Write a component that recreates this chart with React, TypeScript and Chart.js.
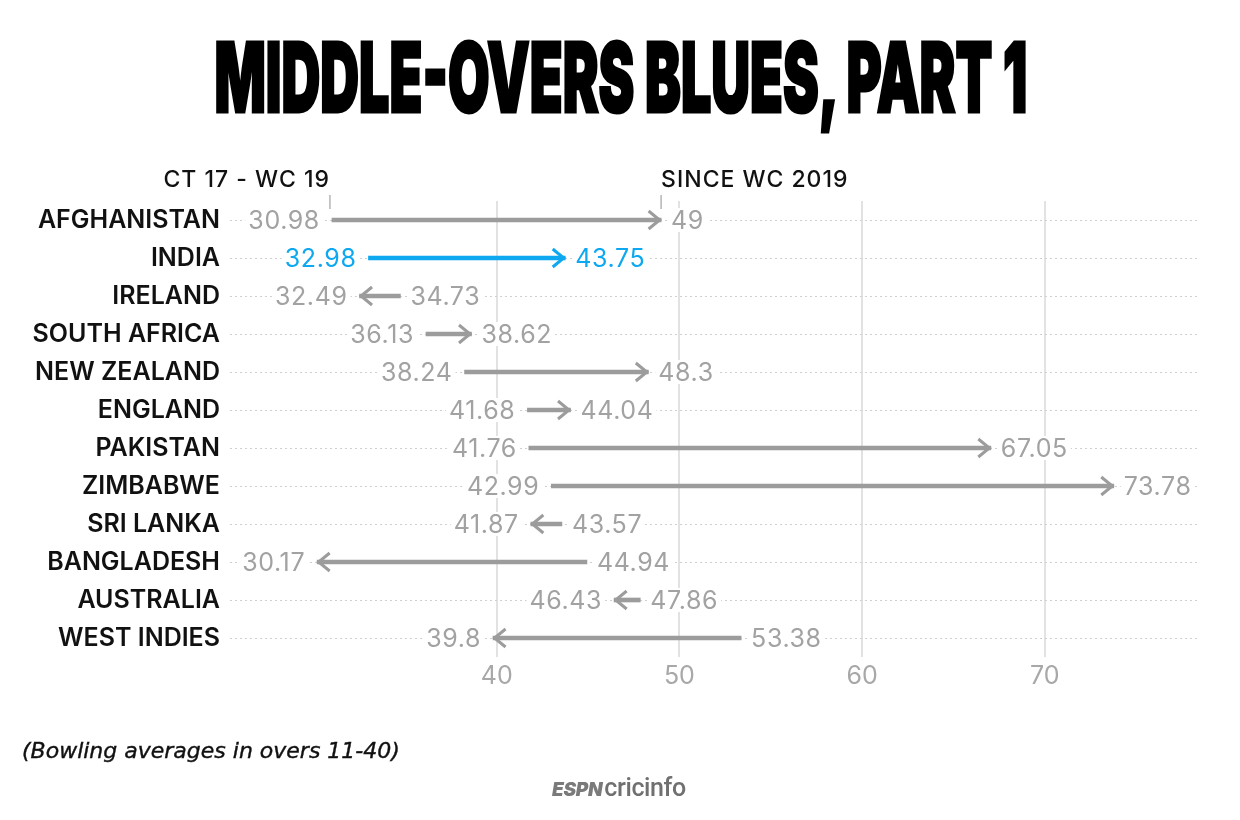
import React, { useEffect, useLayoutEffect, useRef } from "react";
import { Chart, registerables } from "chart.js";

Chart.register(...registerables);

// ---------- data ----------
const teams = [
  "AFGHANISTAN",
  "INDIA",
  "IRELAND",
  "SOUTH AFRICA",
  "NEW ZEALAND",
  "ENGLAND",
  "PAKISTAN",
  "ZIMBABWE",
  "SRI LANKA",
  "BANGLADESH",
  "AUSTRALIA",
  "WEST INDIES",
];
const ct17ToWc19 = [30.98, 32.98, 34.73, 36.13, 38.24, 41.68, 41.76, 42.99, 43.57, 44.94, 47.86, 53.38];
const sinceWc2019 = [49, 43.75, 32.49, 38.62, 48.3, 44.04, 67.05, 73.78, 41.87, 30.17, 46.43, 39.8];
const xTickValues = [40, 50, 60, 70];
const periodLabels = ["CT 17 - WC 19", "SINCE WC 2019"];
const highlightTeam = "INDIA";
const titleText = "MIDDLE-OVERS BLUES, PART 1";
const footnoteText = "(Bowling averages in overs 11-40)";

// ---------- styles ----------
const GREY = "#a2a2a2";
const ARROW_GREY = "#9c9c9c";
const BLUE = "#0ea8f0";
const FONT = "Inter";
const VALUE_FONT = `400 25px ${FONT}`;
const HEADER_FONT = `500 23px ${FONT}`;
const LABEL_GAP = 10;

const colorFor = (i: number) => (teams[i] === highlightTeam ? BLUE : GREY);
const arrowColorFor = (i: number) => (teams[i] === highlightTeam ? BLUE : ARROW_GREY);

const arrowPlugin = {
  id: "arrowsAndLabels",
  afterDatasetsDraw(chart: any) {
    const { ctx } = chart;
    const x = chart.scales.x;
    const y = chart.scales.y;
    ctx.save();
    teams.forEach((_t, i) => {
      const a = ct17ToWc19[i];
      const b = sinceWc2019[i];
      const xa = x.getPixelForValue(a);
      const xb = x.getPixelForValue(b);
      const yy = y.getPixelForValue(i);
      const dir = xb >= xa ? 1 : -1;
      // chevron head
      ctx.strokeStyle = arrowColorFor(i);
      ctx.lineWidth = 3;
      ctx.lineJoin = "miter";
      ctx.lineCap = "butt";
      const tip = xb - dir * 1.5;
      ctx.beginPath();
      ctx.moveTo(tip - dir * 11, yy - 9);
      ctx.lineTo(tip, yy);
      ctx.lineTo(tip - dir * 11, yy + 9);
      ctx.stroke();

      // value labels
      ctx.font = VALUE_FONT;
      try {
        (ctx as any).letterSpacing = "0.6px";
      } catch (e) {}
      ctx.textBaseline = "middle";
      const lo = Math.min(a, b);
      const hi = Math.max(a, b);
      const drawLabel = (txt: string, px: number, align: "left" | "right") => {
        const w = ctx.measureText(txt).width;
        const left = align === "left" ? px : px - w;
        ctx.fillStyle = "#ffffff";
        ctx.fillRect(left - 3, yy - 12, w + 6, 24);
        ctx.fillStyle = colorFor(i);
        ctx.textAlign = align;
        ctx.fillText(txt, px, yy + 1);
      };
      drawLabel(String(lo), x.getPixelForValue(lo) - LABEL_GAP - 2, "right");
      drawLabel(String(hi), x.getPixelForValue(hi) + LABEL_GAP, "left");
    });

    // period headers above the first row
    const y0 = y.getPixelForValue(0);
    const hx1 = x.getPixelForValue(ct17ToWc19[0]);
    const hx2 = x.getPixelForValue(sinceWc2019[0]);
    ctx.font = HEADER_FONT;
    try {
      (ctx as any).letterSpacing = "1px";
    } catch (e) {}
    ctx.fillStyle = "#111111";
    ctx.textBaseline = "middle";
    ctx.textAlign = "right";
    ctx.fillText(periodLabels[0], hx1 - 2, y0 - 40);
    ctx.textAlign = "left";
    ctx.fillText(periodLabels[1], hx2, y0 - 40);
    ctx.strokeStyle = "#b5b5b5";
    ctx.lineWidth = 1.5;
    ctx.beginPath();
    ctx.moveTo(hx1 - 2, y0 - 25);
    ctx.lineTo(hx1 - 2, y0 - 11);
    ctx.moveTo(hx2, y0 - 25);
    ctx.lineTo(hx2, y0 - 11);
    ctx.stroke();
    ctx.restore();
  },
};

function ChartCanvas() {
  const ref = useRef<HTMLCanvasElement | null>(null);
  useEffect(() => {
    if (!ref.current) return;
    const chart = new Chart(ref.current, {
      type: "bar",
      data: {
        labels: teams,
        datasets: [
          {
            data: teams.map((_t, i) => [ct17ToWc19[i], sinceWc2019[i]]) as any,
            backgroundColor: teams.map((_t, i) => arrowColorFor(i)),
            barThickness: 4,
            borderWidth: 0,
            borderSkipped: false,
          },
        ],
      },
      options: {
        indexAxis: "y",
        animation: false,
        responsive: false,
        layout: { padding: { top: 201, bottom: 123, left: 0, right: 40 } },
        plugins: {
          legend: { display: false },
          tooltip: { enabled: false },
          title: { display: false },
        },
        scales: {
          x: {
            type: "linear",
            min: 25.4,
            max: 78.5,
            afterBuildTicks: (scale: any) => {
              scale.ticks = xTickValues.map((v) => ({ value: v }));
            },
            afterFit: (scale: any) => {
              scale.height = 40;
            },
            grid: { color: "#e2e2e2", lineWidth: 2, drawTicks: false },
            border: { display: false },
            ticks: {
              color: "#a8a8a8",
              font: { family: FONT, size: 25, weight: "400" },
              padding: 4,
            },
          },
          y: {
            type: "category",
            afterFit: (scale: any) => {
              scale.width = 230;
            },
            grid: {
              offset: false,
              color: "#cfcfcf",
              lineWidth: 1,
              drawTicks: false,
            },
            border: { display: false, dash: [2, 3] },
            ticks: {
              color: "#111111",
              font: { family: FONT, size: 25, weight: "600" },
              padding: 10,
            },
          },
        },
      } as any,
      plugins: [arrowPlugin],
    });
    (chart.options.scales as any).y.grid.borderDash = [2, 3];
    chart.update();
    return () => chart.destroy();
  }, []);
  return <canvas ref={ref} width={1240} height={820} style={{ position: "absolute", left: 0, top: 0 }} />;
}

function FitText({ text, width, style }: { text: string; width: number; style: React.CSSProperties }) {
  const ref = useRef<HTMLSpanElement | null>(null);
  useLayoutEffect(() => {
    const el = ref.current;
    if (!el) return;
    el.style.transform = "none";
    const w = el.offsetWidth;
    if (w > 0) el.style.transform = `translateX(${-width / 2}px) scaleX(${width / w})`;
  }, [text, width]);
  return (
    <span
      ref={ref}
      style={{ position: "absolute", left: 0, top: 0, display: "inline-block", whiteSpace: "nowrap", transformOrigin: "0 0", ...style }}
    >
      {text}
    </span>
  );
}

export default function App() {
  return (
    <div style={{ position: "absolute", left: 0, top: 0, width: 1240, height: 820, background: "#fff", overflow: "hidden" }}>
      <ChartCanvas />
      <div style={{ position: "absolute", left: 621, top: 29, width: 0, height: 100, lineHeight: 1 }}>
        <FitText
          text={titleText}
          width={813}
          style={{ fontFamily: "Inter", fontWeight: 900, fontSize: 96, lineHeight: 1, color: "#000", WebkitTextStroke: "3px #000" }}
        />
      </div>
      <div
        style={{
          position: "absolute",
          left: 22,
          top: 740,
          fontFamily: "DejaVu Sans",
          fontStyle: "italic",
          fontSize: 22,
          lineHeight: 1,
          color: "#111",
          whiteSpace: "nowrap",
          WebkitTextStroke: "0.4px #111",
        }}
      >
        {footnoteText}
      </div>
      <div style={{ position: "absolute", left: 552, top: 775, lineHeight: 1, whiteSpace: "nowrap", color: "#707070" }}>
        <span
          style={{
            display: "inline-block",
            fontFamily: "Inter",
            fontWeight: 900,
            fontStyle: "italic",
            fontSize: 19,
            letterSpacing: -0.3,
            verticalAlign: "baseline",
            color: "#7a7a7a",
          }}
        >
          ESPN
        </span>
        <span style={{ fontFamily: "Roboto", fontWeight: 500, fontSize: 25, letterSpacing: -0.4, marginLeft: 2 }}>cricinfo</span>
      </div>
    </div>
  );
}
